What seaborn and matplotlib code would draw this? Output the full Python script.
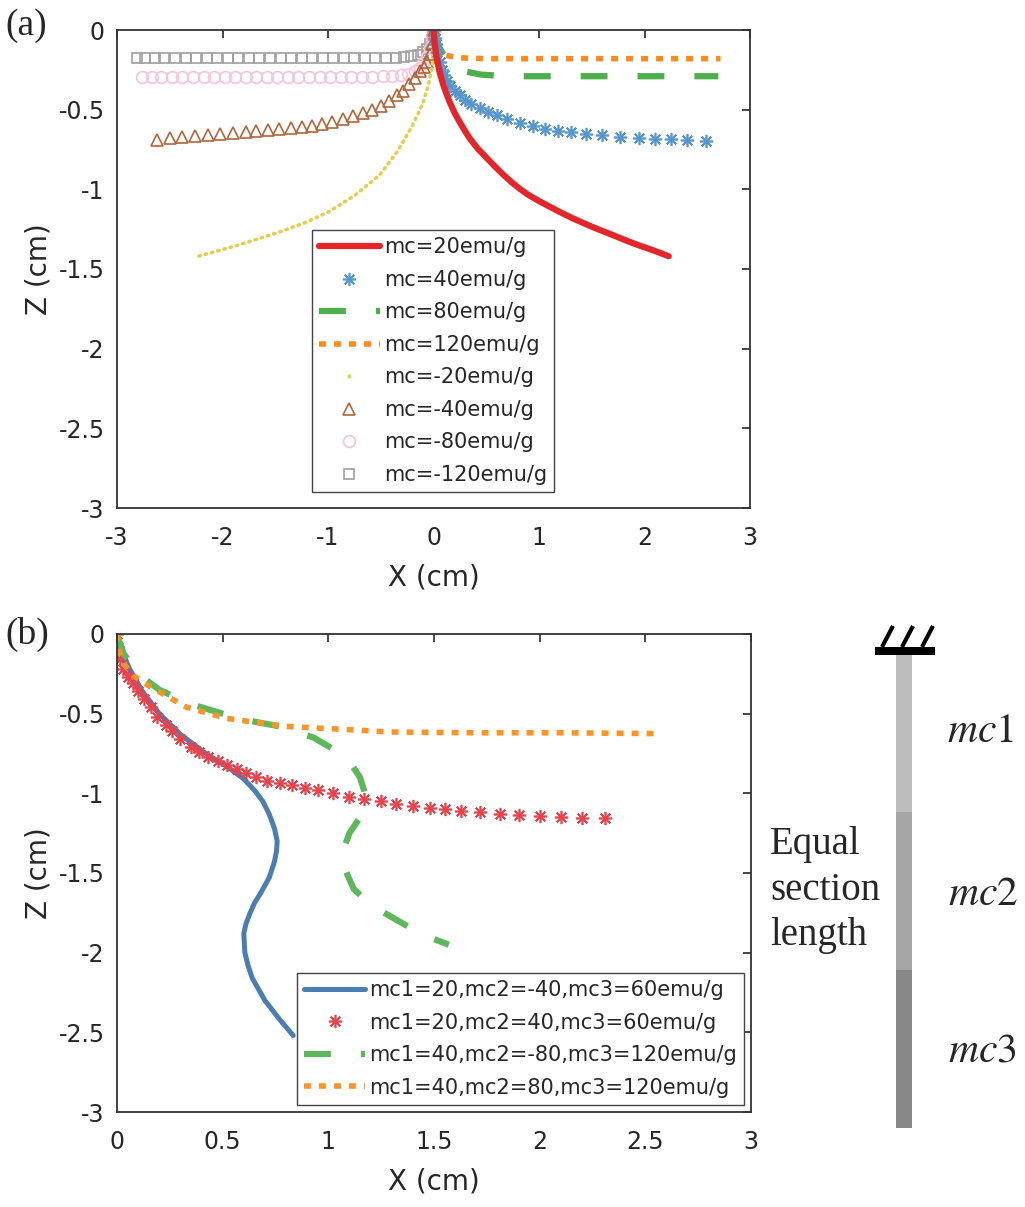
import matplotlib
matplotlib.use("Agg")
import matplotlib.pyplot as plt
from matplotlib.lines import Line2D
from matplotlib.patches import Rectangle
import seaborn as sns

# ---------------- panel (a) data (X, Z in cm) ----------------
X_P20 = [0, 0.01, 0.026, 0.06, 0.1, 0.152, 0.2, 0.25, 0.3, 0.343, 0.42, 0.5, 0.58, 0.657, 0.74,
         0.82, 0.9, 0.98, 1.09, 1.2, 1.32, 1.45, 1.55, 1.65, 1.74, 1.84, 1.94, 2.05, 2.14, 2.23]
Z_P20 = [0, -0.08, -0.157, -0.27, -0.36, -0.45, -0.52, -0.58, -0.635, -0.68, -0.745, -0.8,
         -0.855, -0.905, -0.955, -0.998, -1.035, -1.066, -1.105, -1.143, -1.182, -1.22, -1.248,
         -1.274, -1.298, -1.325, -1.35, -1.375, -1.397, -1.42]

X_P40 = [0, 0.01, 0.02, 0.035, 0.057, 0.08, 0.1, 0.13, 0.16, 0.2, 0.25, 0.3, 0.36, 0.44, 0.52,
         0.6, 0.7, 0.82, 0.94, 1.06, 1.18, 1.3, 1.45, 1.6, 1.77, 1.95, 2.1, 2.25, 2.4, 2.58]
Z_P40 = [0, -0.05, -0.09, -0.14, -0.2, -0.25, -0.28, -0.32, -0.35, -0.38, -0.41, -0.44, -0.465,
         -0.49, -0.515, -0.535, -0.56, -0.585, -0.605, -0.62, -0.632, -0.64, -0.652, -0.662,
         -0.67, -0.677, -0.682, -0.686, -0.69, -0.695]

X_P80 = [0, 0.02, 0.08, 0.18, 0.3, 0.45, 0.7, 1.0, 1.5, 2.7]
Z_P80 = [0, -0.06, -0.14, -0.22, -0.26, -0.28, -0.29, -0.29, -0.29, -0.29]

X_P120 = [0, 0.02, 0.06, 0.12, 0.25, 0.5, 1.0, 2.72]
Z_P120 = [0, -0.08, -0.13, -0.16, -0.175, -0.18, -0.18, -0.18]

X_N20 = [0, -0.003, -0.01, -0.05, -0.1, -0.2, -0.34, -0.51, -0.75, -0.99, -1.22, -1.47, -1.85,
         -2.23]
Z_N20 = [0, -0.08, -0.22, -0.35, -0.46, -0.6, -0.76, -0.91, -1.04, -1.14, -1.21, -1.27, -1.35,
         -1.42]

X_N40 = [0, -0.01, -0.03, -0.06, -0.09, -0.13, -0.18, -0.23, -0.29, -0.35, -0.42, -0.5, -0.58,
         -0.67, -0.76, -0.86, -0.96, -1.06, -1.15, -1.25, -1.35, -1.46, -1.57, -1.68, -1.78,
         -1.9, -2.02, -2.14, -2.26, -2.38, -2.5, -2.62]
Z_N40 = [0, -0.09, -0.15, -0.2, -0.23, -0.26, -0.3, -0.34, -0.38, -0.41, -0.445, -0.475, -0.5,
         -0.52, -0.54, -0.56, -0.575, -0.59, -0.6, -0.608, -0.615, -0.622, -0.628, -0.634,
         -0.64, -0.646, -0.652, -0.658, -0.664, -0.67, -0.68, -0.69]

X_N80 = [0, -0.01, -0.03, -0.06, -0.1, -0.13, -0.18, -0.24, -0.31, -0.39, -0.48, -0.58, -0.68,
         -0.78, -0.88, -0.98, -1.08, -1.18, -1.28, -1.38, -1.48, -1.58, -1.68, -1.78, -1.88,
         -1.98, -2.08, -2.18, -2.28, -2.38, -2.48, -2.58, -2.67, -2.76]
Z_N80 = [0, -0.05, -0.11, -0.17, -0.21, -0.24, -0.26, -0.275, -0.283, -0.288, -0.29, -0.292,
         -0.293, -0.294, -0.294, -0.294, -0.294, -0.294, -0.294, -0.294, -0.294, -0.294, -0.294,
         -0.294, -0.294, -0.294, -0.294, -0.294, -0.294, -0.294, -0.294, -0.294, -0.294, -0.294]

X_N120 = [0, -0.005, -0.015, -0.03, -0.06, -0.1, -0.15, -0.21, -0.28, -0.36, -0.45, -0.55,
          -0.65, -0.75, -0.85, -0.95, -1.05, -1.15, -1.25, -1.35, -1.45, -1.55, -1.65, -1.75,
          -1.85, -1.95, -2.05, -2.15, -2.25, -2.35, -2.45, -2.55, -2.64, -2.73, -2.81]
Z_N120 = [0, -0.03, -0.06, -0.09, -0.12, -0.14, -0.155, -0.165, -0.17, -0.174, -0.176, -0.177,
          -0.177, -0.177, -0.177, -0.177, -0.177, -0.177, -0.177, -0.177, -0.177, -0.177,
          -0.177, -0.177, -0.177, -0.177, -0.177, -0.177, -0.177, -0.177, -0.177, -0.177,
          -0.177, -0.177, -0.177]

LABELS_A = ["mc=20emu/g", "mc=40emu/g", "mc=80emu/g", "mc=120emu/g",
            "mc=-20emu/g", "mc=-40emu/g", "mc=-80emu/g", "mc=-120emu/g"]

# ---------------- panel (b) data ----------------
X_B1 = [0, 0.02, 0.06, 0.12, 0.2, 0.3, 0.42, 0.53, 0.6, 0.65, 0.69, 0.72, 0.745, 0.758, 0.755,
        0.745, 0.72, 0.678, 0.65, 0.63, 0.61, 0.6, 0.605, 0.62, 0.64, 0.67, 0.7, 0.77, 0.834]
Z_B1 = [0, -0.1, -0.22, -0.36, -0.5, -0.63, -0.75, -0.84, -0.91, -0.98, -1.05, -1.13, -1.22,
        -1.3, -1.36, -1.43, -1.53, -1.63, -1.69, -1.75, -1.82, -1.88, -2.0, -2.08, -2.16,
        -2.23, -2.3, -2.42, -2.52]

X_B2 = [0, 0.005, 0.014, 0.03, 0.05, 0.076, 0.1, 0.13, 0.16, 0.19, 0.23, 0.26, 0.3, 0.35, 0.39,
        0.43, 0.48, 0.52, 0.57, 0.61, 0.66, 0.71, 0.77, 0.83, 0.89, 0.95, 1.02, 1.1, 1.17, 1.25,
        1.32, 1.4, 1.48, 1.55, 1.63, 1.72, 1.81, 1.9, 2.0, 2.1, 2.2, 2.31]
Z_B2 = [0, -0.08, -0.16, -0.22, -0.27, -0.31, -0.36, -0.41, -0.46, -0.52, -0.57, -0.61, -0.66,
        -0.71, -0.74, -0.77, -0.8, -0.82, -0.85, -0.87, -0.9, -0.92, -0.935, -0.95, -0.965,
        -0.98, -1.0, -1.02, -1.035, -1.05, -1.065, -1.08, -1.09, -1.1, -1.11, -1.12, -1.128,
        -1.135, -1.142, -1.147, -1.152, -1.157]

X_B3 = [0, 0.03, 0.1, 0.2, 0.35, 0.5, 0.65, 0.77, 0.93, 1.02, 1.1, 1.15, 1.18, 1.15, 1.1, 1.07,
        1.08, 1.12, 1.2, 1.33, 1.45, 1.57]
Z_B3 = [0, -0.12, -0.25, -0.35, -0.44, -0.5, -0.55, -0.58, -0.65, -0.72, -0.8, -0.9, -1.03,
        -1.15, -1.25, -1.36, -1.48, -1.6, -1.7, -1.8, -1.89, -1.95]

X_B4 = [0, 0.014, 0.04, 0.076, 0.156, 0.33, 0.52, 0.8, 1.09, 1.29, 1.7, 2.1, 2.55]
Z_B4 = [0, -0.12, -0.2, -0.26, -0.33, -0.46, -0.53, -0.58, -0.6, -0.615, -0.62, -0.62, -0.625]

LABELS_B = ["mc1=20,mc2=-40,mc3=60emu/g", "mc1=20,mc2=40,mc3=60emu/g",
            "mc1=40,mc2=-80,mc3=120emu/g", "mc1=40,mc2=80,mc3=120emu/g"]

Y_TICKS = [0, -0.5, -1, -1.5, -2, -2.5, -3]
Y_TICK_LABELS = ["0", "-0.5", "-1", "-1.5", "-2", "-2.5", "-3"]
XA_TICKS = [-3, -2, -1, 0, 1, 2, 3]
XB_TICKS = [0, 0.5, 1, 1.5, 2, 2.5, 3]
XB_TICK_LABELS = ["0", "0.5", "1", "1.5", "2", "2.5", "3"]

sns.set_theme(style="white")
plt.rcParams["font.family"] = ["DejaVu Sans"]
plt.rcParams["mathtext.fontset"] = "stix"

W, H = 1025, 1207
fig = plt.figure(figsize=(W / 100, H / 100), dpi=100)

# overlay axes in pixel coordinates for the schematic and panel labels
ov = fig.add_axes([0, 0, 1, 1])
ov.set_xlim(0, W)
ov.set_ylim(H, 0)
ov.axis("off")

ax1 = fig.add_axes([117 / W, 1 - 508 / H, 633 / W, 478 / H])
ax2 = fig.add_axes([117 / W, 1 - 1112 / H, 634 / W, 478 / H])


def line(ax, x, z, **kw):
    sns.lineplot(x=x, y=z, ax=ax, sort=False, estimator=None, **kw)


leg_kw = dict(borderaxespad=0, fontsize=15, handlelength=2.9, handletextpad=0.2,
              labelspacing=0.6, borderpad=0.35, fancybox=False, framealpha=1,
              edgecolor="#444444")

# ---- panel (a)
line(ax1, X_N120, Z_N120, color="#a0a0a0", ls="none", marker="s", ms=7.5, mfc="none",
     mec="#a0a0a0", mew=1.2, label=LABELS_A[7])
line(ax1, X_N80, Z_N80, color="#f6c3d9", ls="none", marker="o", ms=8.5, mfc="none",
     mec="#f6c3d9", mew=1.2, label=LABELS_A[6])
line(ax1, X_N40, Z_N40, color="#b0653a", ls="none", marker="^", ms=8.5, mfc="none",
     mec="#b0653a", mew=1.2, label=LABELS_A[5])
line(ax1, X_N20, Z_N20, color="#e2cf50", lw=2.6, ls=(0, (0.4, 1.4)),
     dash_capstyle="round", label=LABELS_A[4])
line(ax1, X_P120, Z_P120, color="#ff8a1c", lw=4, ls=(0, (1.25, 1.45)), label=LABELS_A[3])
line(ax1, X_P80, Z_P80, color="#4daf4a", lw=4.5, ls=(0, (4.3, 4.8)), label=LABELS_A[2])
line(ax1, X_P40, Z_P40, color="#5596d0", ls="none", marker=(8, 2, 0), ms=9.5,
     mec="#5596d0", mew=1.2, label=LABELS_A[1])
line(ax1, X_P20, Z_P20, color="#e4262b", lw=4.5, label=LABELS_A[0])

h, l = ax1.get_legend_handles_labels()
hmap = dict(zip(l, h))
hmap[LABELS_A[4]] = Line2D([], [], ls="none", marker=".", ms=4, color="#e2cf50")
ax1.legend([hmap[k] for k in LABELS_A], LABELS_A, loc="lower left",
           bbox_to_anchor=(0.308, 0.033), **leg_kw)

ax1.set_xlim(-3, 3)
ax1.set_ylim(-3, 0)
ax1.set_xticks(XA_TICKS)
ax1.set_xticklabels([str(t) for t in XA_TICKS])

# ---- panel (b)
line(ax2, X_B1, Z_B1, color="#4a7eb3", lw=3.6, label=LABELS_B[0])
line(ax2, X_B2, Z_B2, color="#e8434c", ls="none", marker=(8, 2, 0), ms=9.5,
     mec="#e8434c", mew=1.2, label=LABELS_B[1])
line(ax2, X_B3, Z_B3, color="#5db85b", lw=4.5, ls=(0, (4.3, 4.8)), label=LABELS_B[2])
line(ax2, X_B4, Z_B4, color="#fb9426", lw=4, ls=(0, (1.25, 1.45)), label=LABELS_B[3])

ax2.legend(loc="lower right", bbox_to_anchor=(0.989, 0.015), **leg_kw)

ax2.set_xlim(0, 3)
ax2.set_ylim(-3, 0)
ax2.set_xticks(XB_TICKS)
ax2.set_xticklabels(XB_TICK_LABELS)

for ax in (ax1, ax2):
    ax.set_yticks(Y_TICKS)
    ax.set_yticklabels(Y_TICK_LABELS)
    ax.tick_params(direction="in", top=True, right=True, length=6, width=1.2,
                   colors="#262626", labelsize=17)
    ax.tick_params(axis="x", pad=13)
    ax.tick_params(axis="y", pad=9)
    for s in ax.spines.values():
        s.set_color("#333333")
        s.set_linewidth(1.3)
    ax.set_xlabel("X (cm)", fontsize=20, color="#262626", labelpad=10)
    ax.set_ylabel("Z (cm)", fontsize=20, color="#262626", labelpad=4)

# ---- panel labels
ov.text(5, 8, "(a)", fontsize=27, family="Liberation Serif", va="top", ha="left")
ov.text(5, 617, "(b)", fontsize=27, family="Liberation Serif", va="top", ha="left")

# ---- schematic of the three-section beam
ov.add_patch(Rectangle((896, 655), 16, 157, color="#bdbdbd", lw=0))
ov.add_patch(Rectangle((896, 812), 16, 158, color="#a6a6a6", lw=0))
ov.add_patch(Rectangle((896, 970), 16, 158, color="#888888", lw=0))
ov.add_patch(Rectangle((875, 647), 60, 8, color="black", lw=0))
for x0 in (882, 902, 922):
    ov.plot([x0, x0 + 11], [647, 626], color="black", lw=3, solid_capstyle="butt")
ov.text(980, 730, "$mc1$", fontsize=30, ha="center", va="center")
ov.text(983, 893, "$mc2$", fontsize=30, ha="center", va="center")
ov.text(982, 1050, "$mc3$", fontsize=30, ha="center", va="center")
ov.text(770, 890, "Equal\nsection\nlength", fontsize=28, family="Liberation Serif",
        ha="left", va="center", linespacing=1.3)

fig.savefig("out.png", dpi=100)
